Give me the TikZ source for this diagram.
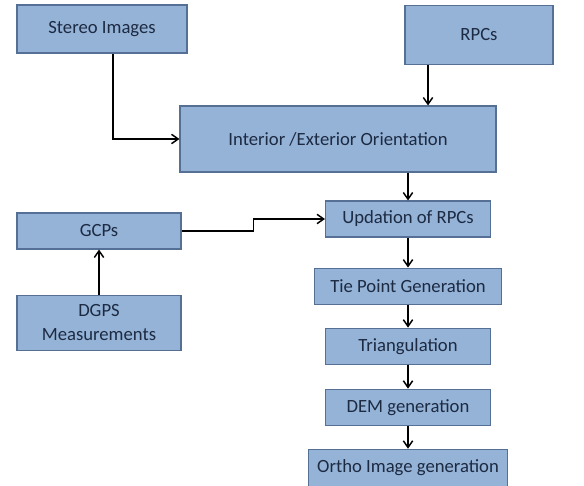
\documentclass[tikz,border=0pt]{standalone}
\usepackage{fontspec}
\setmainfont{Carlito}
\usetikzlibrary{arrows.meta,positioning}
\definecolor{boxfill}{RGB}{149,179,215}
\definecolor{boxline}{RGB}{85,112,148}
\definecolor{boxtext}{RGB}{28,42,66}
\begin{document}
\begin{tikzpicture}[
  x=0.75pt,y=-0.75pt,
  font=\fontsize{14}{18}\selectfont,
  box/.style={draw=boxline,line width=0.8pt,fill=boxfill,text=boxtext,inner sep=0pt,align=center,minimum width=123.75pt,minimum height=27pt},
  arr/.style={-{Straight Barb[length=5pt,width=7pt]},line width=1.1pt}
]
\useasboundingbox (0,0) rectangle (584,485);
% ---- inputs (top) ----
\node[box,minimum width=127.5pt,minimum height=36pt] (stereo) at (102,29) {Stereo Images};
\node[box,minimum width=111pt,minimum height=44.25pt] (rpc) at (479,35) {RPCs};
\node[box,minimum width=237pt,minimum height=49.5pt] (orient) at (338,139) {Interior /Exterior Orientation};
\draw[arr] ([xshift=8.25pt]stereo.south) |- (orient.west);
\draw[arr] ([xshift=-38.25pt]rpc.south) -- ([xshift=-38.25pt]rpc.south |- orient.north);

% ---- ground control (left) ----
\node[box,minimum width=123pt] (gcp) at (99,231) {GCPs};
\node[box,minimum width=123pt,minimum height=41.25pt] (dgps) at (99,323) {DGPS\\Measurements};
\draw[arr] (dgps.north) -- (gcp.south);

% ---- processing chain (right) ----
\node[box] (upd) at (408,219) {Updation of RPCs};
\node[box,minimum width=140.25pt,below=22.5pt of upd] (tie) {Tie Point Generation};
\node[box,below=17.25pt of tie] (tri) {Triangulation};
\node[box,below=18pt of tri] (dem) {DEM generation};
\node[box,minimum width=149.25pt,minimum height=27.75pt,below=17.25pt of dem] (ortho) {Ortho Image generation};
\draw[arr] (orient.south -| upd.north) -- (upd.north);
\draw[arr] (gcp.east) -- ++(72,0) |- (upd.west);
\draw[arr] (upd) -- (tie);
\draw[arr] (tie) -- (tri);
\draw[arr] (tri) -- (dem);
\draw[arr] (dem) -- (ortho);
\end{tikzpicture}
\end{document}
